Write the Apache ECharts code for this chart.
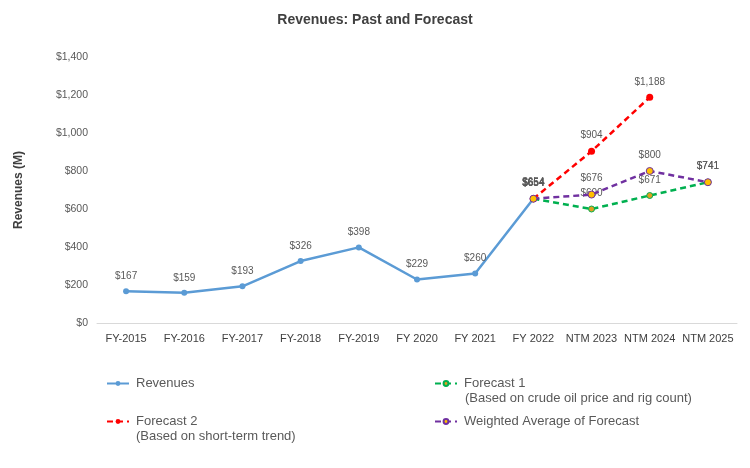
<!DOCTYPE html>
<html>
<head>
<meta charset="utf-8">
<script src="https://cdn.jsdelivr.net/npm/echarts@6/dist/echarts.min.js"></script>
<style>
  html, body { margin: 0; padding: 0; background: #fff; }
  #chart { width: 750px; height: 468px; }
</style>
</head>
<body>
<div id="chart"></div>
<script>
// categories and values
let categories = ["FY-2015", "FY-2016", "FY-2017", "FY-2018", "FY-2019", "FY 2020", "FY 2021", "FY 2022", "NTM 2023", "NTM 2024", "NTM 2025"];
let revenues = [167, 159, 193, 326, 398, 229, 260, 654, null, null, null];
let forecast1 = [null, null, null, null, null, null, null, 654, 600, 671, 741];
let forecast2 = [null, null, null, null, null, null, null, 654, 904, 1188, null];
let weighted = [null, null, null, null, null, null, null, 654, 676, 800, 741];

let textColor = "#595959";
let fmt = function (v) {
    return "$" + v.toLocaleString("en-US");
};

// label for each point
let pointLabel = {
    show: true,
    position: "top",
    distance: 7,
    color: textColor,
    fontSize: 10,
    fontFamily: "Liberation Sans",
    formatter: function (p) {
        return fmt(p.value);
    }
};

function legendAt(name, left, top) {
    return {
        data: [name],
        left: left,
        top: top,
        padding: 0,
        itemWidth: 22,
        itemHeight: 6,
        itemGap: 8,
        textStyle: { color: textColor, fontSize: 13, fontFamily: "Liberation Sans", padding: [0, 0, 0, 2] },
        selectedMode: false
    };
}

// second lines of the legend names
function legendNote(text, left, top) {
    return {
        type: "text",
        left: left,
        top: top,
        style: { text: text, fill: textColor, fontSize: 13, fontFamily: "Liberation Sans" }
    };
}

let option = {
    backgroundColor: "#fff",
    animation: false,
    title: {
        text: "Revenues: Past and Forecast",
        left: "center",
        top: 8,
        textStyle: { color: "#404040", fontSize: 14, fontWeight: "bold", fontFamily: "Liberation Sans" }
    },
    legend: [
        legendAt("Revenues", 106, 377),
        legendAt("Forecast 1", 434, 377),
        legendAt("Forecast 2", 106, 415),
        legendAt("Weighted Average of Forecast", 434, 415)
    ],
    graphic: [
        legendNote("(Based on crude oil price and rig count)", 465, 392),
        legendNote("(Based on short-term trend)", 136, 430)
    ],
    grid: {
        top: 57,
        left: 97,
        right: 13,
        bottom: 145
    },
    xAxis: {
        type: "category",
        data: categories,
        boundaryGap: true,
        axisTick: { show: false },
        axisLine: { lineStyle: { color: "#d9d9d9", width: 1 } },
        axisLabel: { interval: 0, color: "#404040", fontSize: 11, fontFamily: "Liberation Sans", margin: 10 }
    },
    yAxis: {
        type: "value",
        min: 0,
        max: 1400,
        interval: 200,
        name: "Revenues (M)",
        nameLocation: "middle",
        nameGap: 72,
        nameRotate: 90,
        nameTextStyle: { color: "#404040", fontSize: 12, fontWeight: "bold", fontFamily: "Liberation Sans" },
        splitLine: { show: false },
        axisLine: { show: false },
        axisTick: { show: false },
        axisLabel: {
            color: textColor,
            fontSize: 10.5,
            fontFamily: "Liberation Sans",
            margin: 9,
            formatter: fmt
        }
    },
    series: [
        {
            name: "Revenues",
            type: "line",
            data: revenues,
            symbol: "circle",
            symbolSize: 6,
            lineStyle: { color: "#5B9BD5", width: 2.5 },
            itemStyle: { color: "#5B9BD5" },
            label: pointLabel,
            z: 3
        },
        {
            name: "Forecast 1",
            type: "line",
            data: forecast1,
            symbol: "circle",
            symbolSize: 6,
            lineStyle: { color: "#00B050", width: 2.5, type: [6, 4] },
            itemStyle: { color: "#E0A020", borderColor: "#00B050", borderWidth: 1 },
            label: pointLabel,
            z: 2
        },
        {
            name: "Forecast 2",
            type: "line",
            data: forecast2,
            symbol: "circle",
            symbolSize: 7,
            lineStyle: { color: "#FF0000", width: 2.5, type: [6, 4] },
            itemStyle: { color: "#FF0000" },
            label: pointLabel,
            z: 2
        },
        {
            name: "Weighted Average of Forecast",
            type: "line",
            data: weighted,
            symbol: "circle",
            symbolSize: 7,
            lineStyle: { color: "#7030A0", width: 2.5, type: [6, 4] },
            itemStyle: { color: "#FFC000", borderColor: "#7030A0", borderWidth: 1 },
            label: pointLabel,
            z: 4
        }
    ]
};

let myChart = echarts.init(document.getElementById("chart"));
myChart.setOption(option);

window.addEventListener("resize", function () {
    myChart.resize();
});
</script>
</body>
</html>
